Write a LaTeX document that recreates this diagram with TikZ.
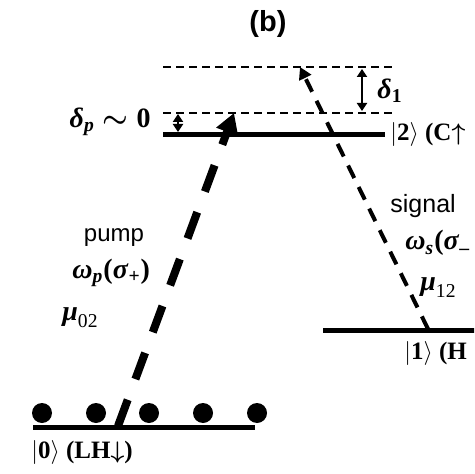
\documentclass[tikz,border=0pt]{standalone}
\usepackage{amsmath}
\usepackage{fontspec}
\setmainfont{Liberation Serif}
\setsansfont{Liberation Sans}
\usepackage{bm}
\usetikzlibrary{arrows.meta}
\newcommand{\gr}[1]{\textbf{\textit{#1}}}
\tikzset{
  level/.style={line width=2.5pt},
  virtual/.style={line width=1pt,dash pattern=on 4pt off 2.5pt},
  pumpline/.style={line width=4pt,dash pattern=on 14pt off 11pt,-{Triangle[length=10pt,width=11pt]}},
  signalline/.style={line width=2pt,dash pattern=on 7pt off 5pt,-{Triangle[length=6pt,width=6.5pt]}},
  detuning/.style={line width=1pt,{Triangle[length=4pt,width=5pt]}-{Triangle[length=4pt,width=5pt]}},
  lbl/.style={inner sep=0pt,font=\sffamily\fontsize{12.5}{15}\selectfont},
  mathlbl/.style={inner sep=0pt,font=\fontsize{14}{16}\selectfont},
  ketlbl/.style={inner sep=0pt,font=\bfseries\fontsize{12.5}{15}\selectfont},
}
\begin{document}
\begin{tikzpicture}[x=0.5pt,y=-0.5pt]
  \useasboundingbox (0,0) rectangle (474,474);
  \clip (0,0) rectangle (474,474);
  \node[inner sep=0pt,font=\sffamily\bfseries\fontsize{14.5}{16}\selectfont] (title) at (268,24) {(b)};
  \coordinate (upl) at (163,67);  \coordinate (upr) at (393,67);
  \coordinate (lol) at (163,113); \coordinate (lor) at (393,113);
  \coordinate (twol) at (163,135); \coordinate (twor) at (385,135);
  \coordinate (onel) at (323,330); \coordinate (oner) at (480,330);
  \coordinate (zerol) at (33,427); \coordinate (zeror) at (255,427);
  \draw[virtual] (upl) -- (upr);
  \draw[virtual] (lol) -- (lor);
  \draw[level] (twol) -- (twor);
  \draw[level] (onel) -- (oner);
  \draw[level] (zerol) -- (zeror);
  \foreach \x in {42,96,149,203,257}
  \fill (\x,413) circle (5pt);
  \coordinate (dpt) at (178,114); \coordinate (dpb) at (178,132);
  \coordinate (donet) at (362,69); \coordinate (doneb) at (362,111);
  \draw[detuning] (dpt) -- (dpb);
  \draw[detuning] (donet) -- (doneb);
  \coordinate (pumpfoot) at (118,426); \coordinate (pumptip) at (234,113);
  \coordinate (sigfoot) at (428,329); \coordinate (sigtip) at (300,67);
  \draw[pumpline] (pumpfoot) -- (pumptip);
  \draw[signalline] (sigfoot) -- (sigtip);
  \node[mathlbl,anchor=east] (dp) at (151,122) {$\gr{δ}_{\gr{p}}\bm{\sim}\textbf{0}$};
  \node[mathlbl,anchor=west] (dl) at (377,91) {$\gr{δ}_{\textbf{1}}$};
  \node[ketlbl,anchor=west] (k2) at (390,135) {$|$2$\rangle$ (C$\bm{\uparrow}$};
  \node[ketlbl,anchor=west] (k1) at (404,353) {$|$1$\rangle$ (H};
  \node[ketlbl,anchor=west] (k0) at (31,452) {$|$0$\rangle$ (LH$\bm{\downarrow}$)};
  \node[lbl,font=\sffamily\fontsize{12}{14}\selectfont] (pump) at (114,238) {pump};
  \node[mathlbl,anchor=west] (wp) at (72,273) {$\gr{ω}_{\gr{p}}\textbf{(}\gr{σ}_{\textbf{+}}\textbf{)}$};
  \node[mathlbl,anchor=west] (m02) at (62,318) {$\gr{μ}_{\text{02}}$};
  \node[lbl,anchor=west] (signal) at (390,206) {signal};
  \node[mathlbl,anchor=west] (ws) at (405,243) {$\gr{ω}_{\gr{s}}\textbf{(}\gr{σ}_{\textbf{--}}$};
  \node[mathlbl,anchor=west] (m12) at (420,288) {$\gr{μ}_{\text{12}}$};
\end{tikzpicture}
\end{document}
